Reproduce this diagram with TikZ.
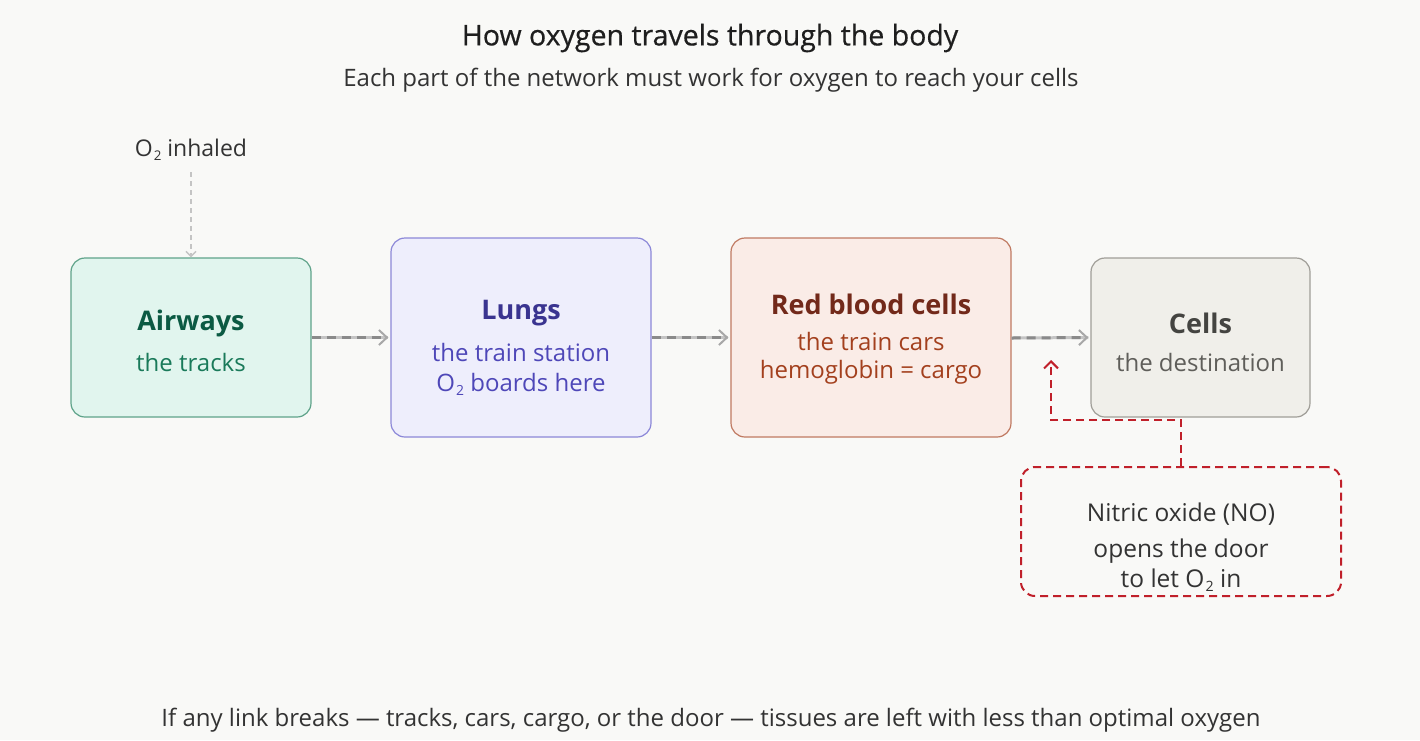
\documentclass[tikz,border=0pt]{standalone}
\usepackage{fontspec}
\setmainfont{Open Sans}
\newfontfamily\mediumfont{Open Sans}[FakeBold=0.5]
\usetikzlibrary{arrows.meta}
\newcommand\oxtwo{O\kern0.04em\raisebox{-0.32ex}{\scalebox{0.58}{2}}}
\definecolor{bg}{HTML}{F9F9F7}
\definecolor{txt}{HTML}{333333}
\definecolor{titletxt}{HTML}{1E1E1E}
\definecolor{airfill}{HTML}{E1F5EE}
\definecolor{airdraw}{HTML}{5FA38A}
\definecolor{airtitle}{HTML}{0B5A43}
\definecolor{airsub}{HTML}{1A7A5A}
\definecolor{lungfill}{HTML}{EEEEFC}
\definecolor{lungdraw}{HTML}{8C88D8}
\definecolor{lungtitle}{HTML}{3A3490}
\definecolor{lungsub}{HTML}{4E47B8}
\definecolor{rbcfill}{HTML}{FAECE7}
\definecolor{rbcdraw}{HTML}{C07A62}
\definecolor{rbctitle}{HTML}{72291A}
\definecolor{rbcsub}{HTML}{A3401E}
\definecolor{cellfill}{HTML}{F0EFEA}
\definecolor{celldraw}{HTML}{A09E98}
\definecolor{celltitle}{HTML}{444441}
\definecolor{cellsub}{HTML}{5F5E5A}
\definecolor{nored}{HTML}{C0202A}
\definecolor{conlight}{HTML}{C4C4C4}
\definecolor{condark}{HTML}{8A8A8A}
\definecolor{conhead}{HTML}{A8A8A8}
\tikzset{
  stagebox/.style={draw, rounded corners=14pt, line width=1.2pt, align=center, inner sep=0pt},
  boxtitle/.style={font=\fontsize{27}{32}\selectfont\bfseries},
  boxsub/.style={font=\fontsize{24}{32}\selectfont},
  conbase/.style={line width=3pt, draw=conlight, shorten >=2pt},
  condash/.style={line width=3pt, draw=condark, dash pattern=on 9pt off 6pt, shorten >=2pt,
     -{Straight Barb[length=8pt,width=15pt,line width=2pt,color=conhead]}},
  inhale/.style={line width=1.5pt, draw=conlight, dash pattern=on 5pt off 4pt,
     -{Straight Barb[length=5pt,width=10pt,line width=1.5pt]}},
  reddash/.style={line width=2pt, draw=nored, dash pattern=on 8pt off 5pt},
  plaintext/.style={text=txt, align=center, inner sep=0pt}
}
\begin{document}
\begin{tikzpicture}[x=1pt,y=-1pt]
\fill[bg] (0,0) rectangle (1420,740);
\useasboundingbox (0,0) rectangle (1420,740);

\node[plaintext, text=titletxt, font=\fontsize{28.5}{32}\mediumfont] (title) at (710,38) {How oxygen travels through the body};
\node[plaintext, font=\fontsize{24}{28}\selectfont] (subtitle) at (711,80) {Each part of the network must work for oxygen to reach your cells};

\node[plaintext, font=\fontsize{23}{26}\selectfont] (inh) at (191,150) {\oxtwo{} inhaled};

\node[stagebox, fill=airfill, draw=airdraw, minimum width=240pt, minimum height=159pt] (air) at (191,337.5) {};
\node[boxtitle, text=airtitle] (airT) at (191,323) {Airways};
\node[boxsub, text=airsub] (airS) at (191,362) {the tracks};

\node[stagebox, fill=lungfill, draw=lungdraw, minimum width=260pt, minimum height=199pt] (lung) at (521,337.5) {};
\node[boxtitle, text=lungtitle] (lungT) at (521,313) {Lungs};
\node[boxsub, text=lungsub] (lungS1) at (521,352) {the train station};
\node[boxsub, text=lungsub] (lungS2) at (521,384) {\oxtwo{} boards here};

\node[stagebox, fill=rbcfill, draw=rbcdraw, minimum width=280pt, minimum height=199pt] (rbc) at (871,337.5) {};
\node[boxtitle, text=rbctitle] (rbcT) at (871,304) {Red blood cells};
\node[boxsub, text=rbcsub] (rbcS1) at (871,341) {the train cars};
\node[boxsub, text=rbcsub] (rbcS2) at (871,372) {hemoglobin = cargo};

\node[stagebox, fill=cellfill, draw=celldraw, minimum width=219pt, minimum height=159pt] (cell) at (1200.5,337.5) {};
\node[boxtitle, text=celltitle] (cellT) at (1200.5,323) {Cells};
\node[boxsub, text=cellsub] (cellS) at (1200.5,362) {the destination};

\node[draw=nored, reddash, rounded corners=14pt, minimum width=320pt, minimum height=129pt] (no) at (1181,531.5) {};
\node[plaintext, font=\fontsize{24.5}{26}\selectfont] (noT1) at (1181,514) {Nitric oxide (NO)};
\node[plaintext, font=\fontsize{24.5}{26}\selectfont] (noT2) at (1181,551) {opens the door};
\node[plaintext, font=\fontsize{24.5}{26}\selectfont] (noT3) at (1181,580) {to let \oxtwo{} in};

\node[plaintext, font=\fontsize{24}{26}\selectfont] (foot) at (711,720) {If any link breaks — tracks, cars, cargo, or the door — tissues are left with less than optimal oxygen};

% connectors
\draw[inhale] (inh.south |- 0,172) -- (air.north);
\draw[conbase] (air.east) -- (lung.west);
\draw[condash] (air.east) -- (lung.west);
\draw[conbase] (lung.east) -- (rbc.west);
\draw[condash] (lung.east) -- (rbc.west);
\draw[conbase] (rbc.east |- 0,338) -- (cell.west);
\draw[condash] (rbc.east |- 0,338) -- (cell.west);

\coordinate (door) at (1051,360);
\draw[reddash, -{Straight Barb[length=7pt,width=14pt,line width=2pt]}] (no.north) -- ++(0,-46) -| (door);
\end{tikzpicture}
\end{document}
